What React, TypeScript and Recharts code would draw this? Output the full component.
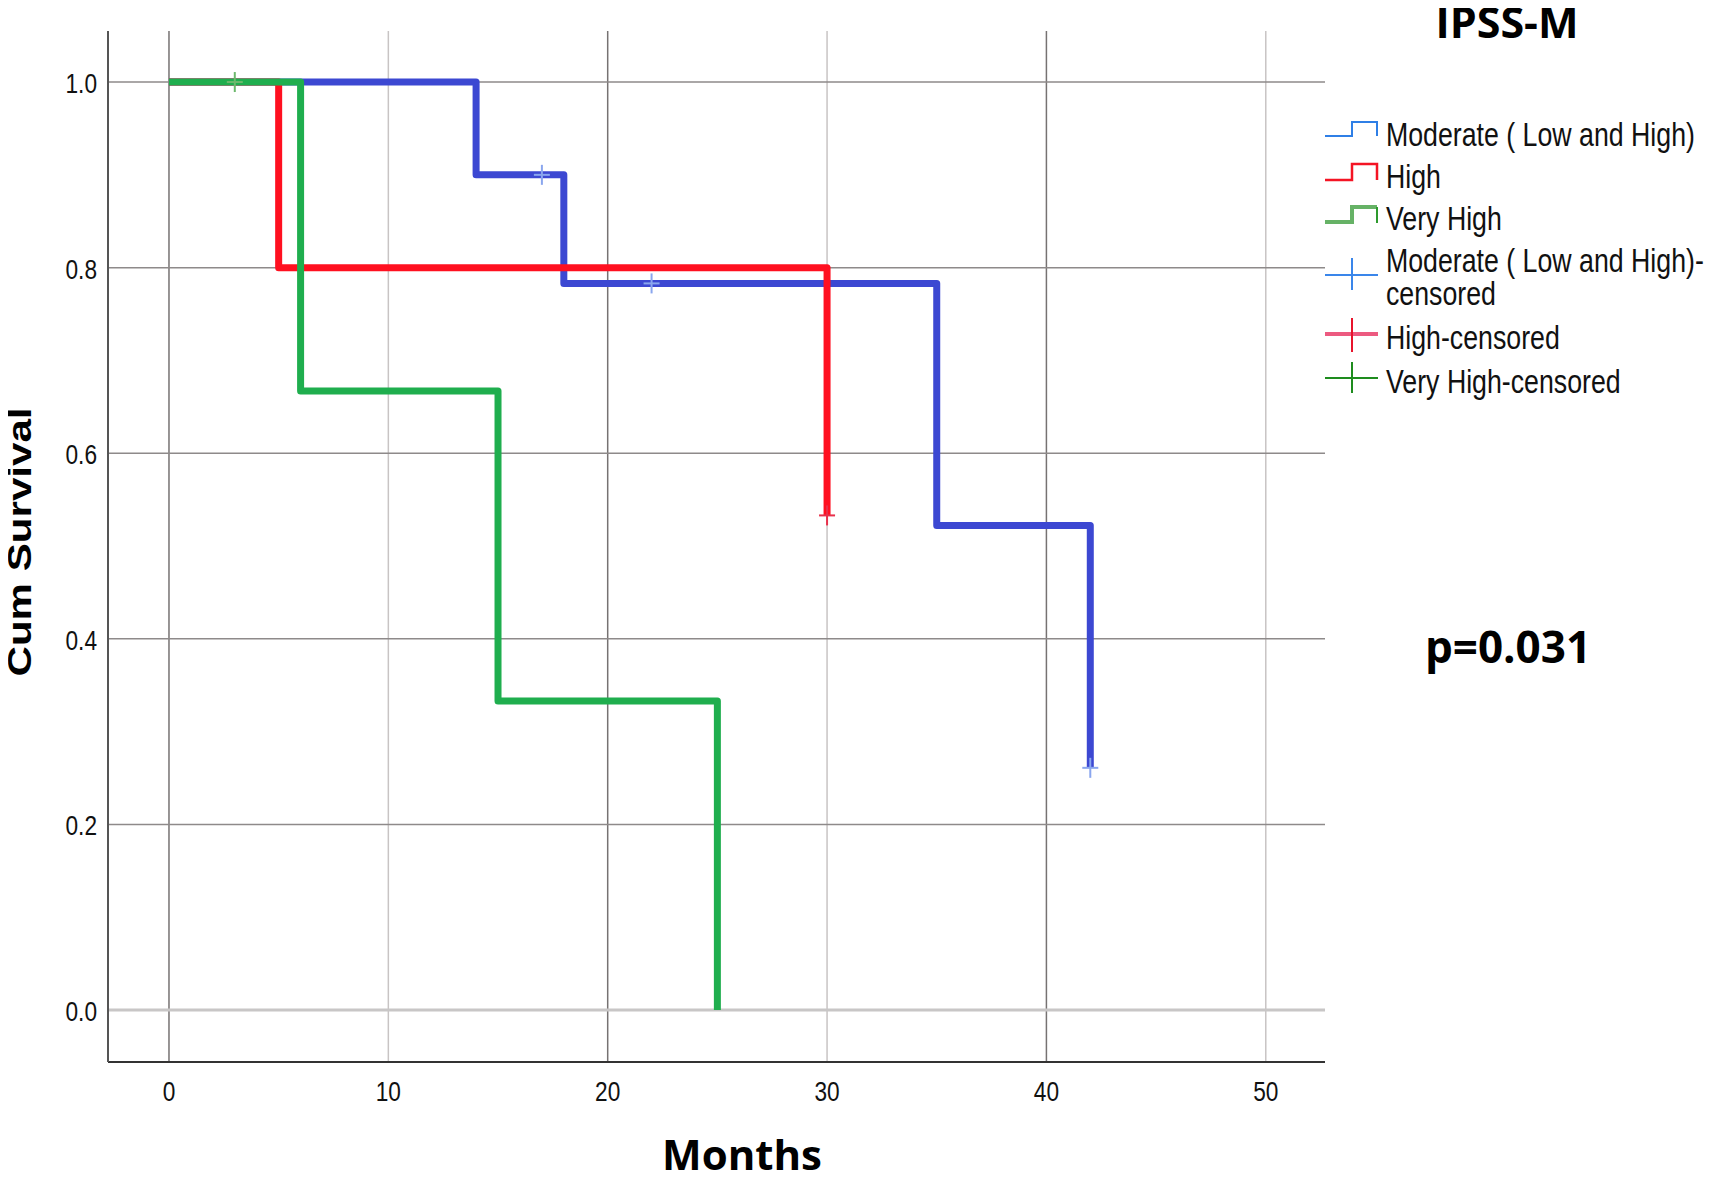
// App.tsx
// Kaplan-Meier survival by IPSS-M group (Recharts step lines + censor marks)

import {
  ComposedChart,
  Line,
  Scatter,
  XAxis,
  YAxis,
  ReferenceLine,
} from 'recharts'

const xTicks = [0, 10, 20, 30, 40, 50]
const yTicks = [0, 0.2, 0.4, 0.6, 0.8, 1.0]

// survival curves: time (months) / cumulative survival
const moderate = [
  { t: 0, s: 1.0 },
  { t: 14, s: 0.9 },
  { t: 18, s: 0.783 },
  { t: 35, s: 0.522 },
  { t: 42, s: 0.261 },
]
const high = [
  { t: 0, s: 1.0 },
  { t: 5, s: 0.8 },
  { t: 30, s: 0.533 },
]
const veryHigh = [
  { t: 0, s: 1.0 },
  { t: 6, s: 0.667 },
  { t: 15, s: 0.333 },
  { t: 25, s: 0.0 },
]

// censored observations
const moderateCensored = [
  { t: 17, s: 0.9 },
  { t: 22, s: 0.783 },
  { t: 42, s: 0.261 },
]
const highCensored = [{ t: 30, s: 0.533 }]
const veryHighCensored = [{ t: 3, s: 1.0 }]

const legendLabels = [
  ['Moderate ( Low and High)'],
  ['High'],
  ['Very High'],
  ['Moderate ( Low and High)-', 'censored'],
  ['High-censored'],
  ['Very High-censored'],
]

const SANS = "'Liberation Sans', Arial, sans-serif"
const BOLD = "'Open Sans', 'Noto Sans', sans-serif"
const SQUEEZE = 0.81 // fake a narrow face, none is installed

// text drawn narrow by scaling horizontally around its anchor point
function NarrowText({ x, y, anchor = 'start', size, children }: any) {
  return (
    <text
      transform={`translate(${x},${y}) scale(${SQUEEZE},1)`}
      textAnchor={anchor}
      fontFamily={SANS}
      fontSize={size}
      fill="#111"
    >
      {children}
    </text>
  )
}

const XTick = (props: any) => {
  const { x, y, payload } = props
  return (
    <NarrowText x={x} y={y + 39} anchor="middle" size={28}>
      {payload.value}
    </NarrowText>
  )
}

const YTick = (props: any) => {
  const { x, y, payload } = props
  return (
    <NarrowText x={x} y={y + 11} anchor="end" size={28}>
      {Number(payload.value).toFixed(1)}
    </NarrowText>
  )
}

const Cross = (color: string) => (props: any) => {
  const { cx, cy } = props
  if (cx == null || cy == null) return null
  return (
    <g stroke={color} strokeWidth={2}>
      <line x1={cx - 8} x2={cx + 8} y1={cy} y2={cy} />
      <line x1={cx} x2={cx} y1={cy - 10} y2={cy + 10} />
    </g>
  )
}

function Legend() {
  const baselines = [146, 188, 230, 272, 349, 393]
  return (
    <svg
      width={1712}
      height={1179}
      style={{ position: 'absolute', left: 0, top: 0, pointerEvents: 'none' }}
    >
      <text x={1507} y={38} textAnchor="middle" fontFamily={BOLD} fontWeight={700} fontSize={43}>
        IPSS-M
      </text>
      <text x={1508} y={663} textAnchor="middle" fontFamily={BOLD} fontWeight={700} fontSize={44}>
        p=0.031
      </text>
      <text x={742} y={1170} textAnchor="middle" fontFamily={BOLD} fontWeight={700} fontSize={42}>
        Months
      </text>
      <text
        transform="translate(31,542) rotate(-90)"
        textAnchor="middle"
        fontFamily={SANS}
        fontWeight={700}
        fontSize={34}
        textLength={269}
        lengthAdjust="spacingAndGlyphs"
      >
        Cum Survival
      </text>

      {/* step symbols */}
      <path d="M1325,136 H1352 V122 H1377 V136" fill="none" stroke="#2f7fe6" strokeWidth={2} />
      <path d="M1325,180 H1352 V164 H1377 V180" fill="none" stroke="#f41424" strokeWidth={2.5} />
      <path d="M1325,222 H1352 V207 H1377" fill="none" stroke="#66b266" strokeWidth={4} />
      <path d="M1377,207 V223" fill="none" stroke="#2e9a2e" strokeWidth={2} />

      {/* censor symbols */}
      <g stroke="#3a86ea" strokeWidth={2}>
        <line x1={1325} x2={1378} y1={275} y2={275} />
        <line x1={1352} x2={1352} y1={258} y2={290} />
      </g>
      <g>
        <line x1={1325} x2={1378} y1={334} y2={334} stroke="#ec5a80" strokeWidth={4} />
        <line x1={1352} x2={1352} y1={318} y2={352} stroke="#e8142c" strokeWidth={2} />
      </g>
      <g stroke="#1e8c1e" strokeWidth={2}>
        <line x1={1325} x2={1378} y1={378} y2={378} />
        <line x1={1352} x2={1352} y1={362} y2={393} />
      </g>

      {legendLabels.map((lines, i) =>
        lines.map((ln, j) => (
          <NarrowText key={`${i}-${j}`} x={1386} y={baselines[i] + j * 33} size={33}>
            {ln}
          </NarrowText>
        ))
      )}
    </svg>
  )
}

export default function App() {
  return (
    <div style={{ position: 'relative', width: 1712, height: 1179, margin: '-8px 0 0 -8px', background: '#fff' }}>
      <ComposedChart
        width={1712}
        height={1179}
        margin={{ top: 31, right: 387, left: 0, bottom: 57 }}
      >
        <XAxis
          type="number"
          dataKey="t"
          domain={[-2.78, 52.7]}
          allowDataOverflow
          ticks={xTicks}
          tickSize={0}
          tickMargin={0}
          height={60}
          axisLine={{ stroke: '#333', strokeWidth: 2 }}
          tick={<XTick />}
        />
        <YAxis
          type="number"
          dataKey="s"
          domain={[-0.056, 1.055]}
          allowDataOverflow
          ticks={yTicks}
          tickSize={0}
          tickMargin={11}
          width={108}
          axisLine={{ stroke: '#555', strokeWidth: 2 }}
          tick={<YTick />}
        />
        {xTicks.map((v, i) => (
          <ReferenceLine
            key={`vx${v}`}
            x={v}
            stroke={i % 2 === 0 ? '#767272' : '#c8c4c4'}
            strokeWidth={1.5}
          />
        ))}
        {yTicks.map((v) => (
          <ReferenceLine
            key={`hy${v}`}
            y={v}
            stroke={v === 0 ? '#c8c6c6' : '#8e8a8a'}
            strokeWidth={v === 0 ? 3 : 1.5}
          />
        ))}
        <Line
          data={moderate}
          dataKey="s"
          type="stepAfter"
          stroke="#3c48d2"
          strokeWidth={7}
          strokeLinejoin="round"
          dot={false}
          isAnimationActive={false}
        />
        <Line
          data={high}
          dataKey="s"
          type="stepAfter"
          stroke="#ff1020"
          strokeWidth={7}
          strokeLinejoin="round"
          dot={false}
          isAnimationActive={false}
        />
        <Line
          data={veryHigh}
          dataKey="s"
          type="stepAfter"
          stroke="#1fae4e"
          strokeWidth={7}
          strokeLinejoin="round"
          dot={false}
          isAnimationActive={false}
        />
        <Scatter data={moderateCensored} dataKey="s" shape={Cross('#8aa6ee')} isAnimationActive={false} />
        <Scatter data={highCensored} dataKey="s" shape={Cross('#e8304a')} isAnimationActive={false} />
        <Scatter data={veryHighCensored} dataKey="s" shape={Cross('#6cb86c')} isAnimationActive={false} />
      </ComposedChart>
      <Legend />
    </div>
  )
}
